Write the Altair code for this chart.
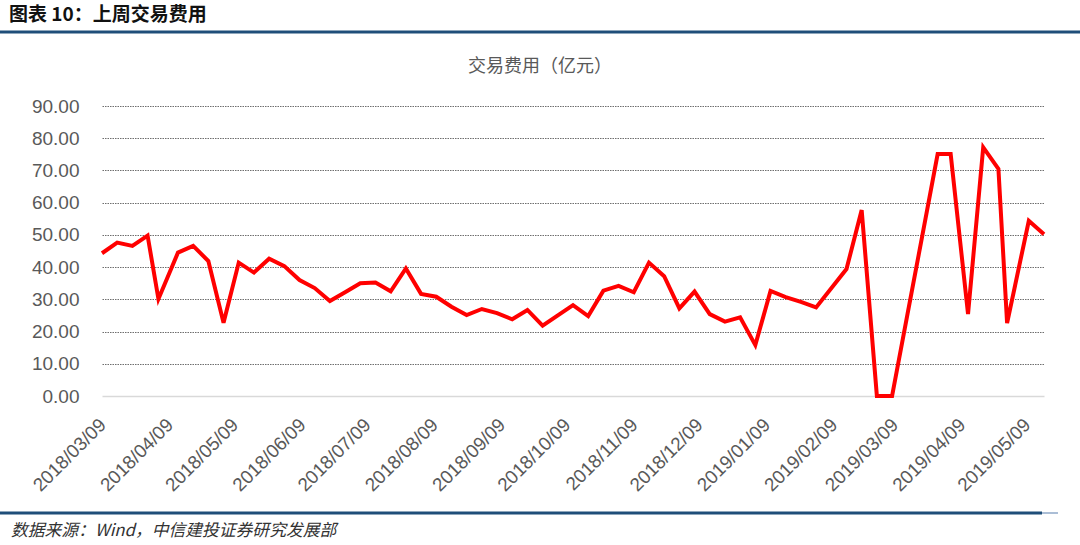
import altair as alt
import pandas as pd

# ---- data ----
dates = [
    "2018-03-09", "2018-03-16", "2018-03-23", "2018-03-30", "2018-04-04",
    "2018-04-13", "2018-04-20", "2018-04-27", "2018-05-04", "2018-05-11",
    "2018-05-18", "2018-05-25", "2018-06-01", "2018-06-08", "2018-06-15",
    "2018-06-22", "2018-06-29", "2018-07-06", "2018-07-13", "2018-07-20",
    "2018-07-27", "2018-08-03", "2018-08-10", "2018-08-17", "2018-08-24",
    "2018-08-31", "2018-09-07", "2018-09-14", "2018-09-21", "2018-09-28",
    "2018-10-12", "2018-10-19", "2018-10-26", "2018-11-02", "2018-11-09",
    "2018-11-16", "2018-11-23", "2018-11-30", "2018-12-07", "2018-12-14",
    "2018-12-21", "2018-12-28", "2019-01-04", "2019-01-11", "2019-01-18",
    "2019-01-25", "2019-02-01", "2019-02-15", "2019-02-22", "2019-03-01",
    "2019-03-08", "2019-03-15", "2019-03-22", "2019-03-29", "2019-04-04",
    "2019-04-12", "2019-04-19", "2019-04-26", "2019-04-30", "2019-05-10",
    "2019-05-17",
]
values = [
    44.3, 47.6, 46.6, 49.8, 30.1,
    44.5, 46.6, 41.9, 22.7, 41.4,
    38.3, 42.6, 40.3, 36.0, 33.5,
    29.5, 32.2, 35.0, 35.2, 32.5,
    39.6, 31.7, 30.8, 27.7, 25.1,
    27.0, 25.7, 23.8, 26.7, 21.8,
    28.2, 24.8, 32.7, 34.2, 32.2,
    41.4, 37.2, 27.2, 32.4, 25.4,
    23.1, 24.4, 15.8, 32.6, 30.7,
    29.2, 27.5, 39.4, 57.7, 0.0,
    0.0, 25.0, 50.0, 75.1, 75.1,
    25.4, 77.2, 70.5, 22.6, 54.4,
    50.2,
]
tick_dates = [
    "2018-03-09", "2018-04-09", "2018-05-09", "2018-06-09", "2018-07-09",
    "2018-08-09", "2018-09-09", "2018-10-09", "2018-11-09", "2018-12-09",
    "2019-01-09", "2019-02-09", "2019-03-09", "2019-04-09", "2019-05-09",
]
y_ticks = [0, 10, 20, 30, 40, 50, 60, 70, 80, 90]
domain_dates = ["2018-03-09", "2019-05-17"]

header = "图表 10：上周交易费用"
chart_title = "交易费用（亿元）"
source = "数据来源：Wind，中信建投证券研究发展部"


def ms(s):
    return int(pd.Timestamp(s).value // 10**6)


df = pd.DataFrame({"date": dates, "value": values})

W, H = 942, 290
PL, PT = 102, 106
TOTAL_W, TOTAL_H = 1080, 545

label_font = "Liberation Sans"
cjk = "Noto Sans CJK SC"
grey = "#595959"

x_enc = alt.X(
    "date:T",
    scale=alt.Scale(type="utc", domain=[ms(d) for d in domain_dates]),
    axis=alt.Axis(
        values=[ms(d) for d in tick_dates],
        labelExpr="utcFormat(datum.value, '%Y/%m/%d')",
        labelAngle=315,
        labelAlign="right",
        labelBaseline="top",
        labelFont=label_font,
        labelFontSize=18.8,
        labelColor=grey,
        labelPadding=19,
        labelOffset=-6,
        labelOverlap=False,
        labelBound=False,
        labelFlush=False,
        ticks=False,
        domain=False,
        grid=False,
        title=None,
    ),
)

y_enc = alt.Y(
    "value:Q",
    scale=alt.Scale(domain=[0, 90], nice=False, zero=True),
    axis=alt.Axis(
        values=y_ticks,
        format=".2f",
        labelFont=label_font,
        labelFontSize=19,
        labelColor=grey,
        labelPadding=23,
        ticks=False,
        domain=False,
        grid=True,
        gridColor={"condition": {"test": "datum.value === 0", "value": "#D9D9D9"}, "value": "#6E6E6E"},
        gridDash={"condition": {"test": "datum.value === 0", "value": [1, 0]}, "value": [1.5, 1]},
        gridWidth={"condition": {"test": "datum.value === 0", "value": 1.5}, "value": 1},
        title=None,
    ),
)

line = alt.Chart(df).mark_line(color="#FF0000", strokeWidth=4, strokeJoin="miter").encode(
    x=x_enc, y=y_enc
)

one = pd.DataFrame({"k": [0]})

title_txt = alt.Chart(one).mark_text(
    font=cjk, fontSize=18, color=grey, align="center", baseline="middle"
).encode(x=alt.value(TOTAL_W / 2 - PL), y=alt.value(67 - PT), text=alt.value(chart_title))

header_txt = alt.Chart(one).mark_text(
    font=cjk, fontSize=19, fontWeight="bold", color="#111111", align="left", baseline="middle"
).encode(x=alt.value(9 - PL), y=alt.value(15 - PT), text=alt.value(header))

source_txt = alt.Chart(one).mark_text(
    font=cjk, fontSize=16.8, fontStyle="italic", color="#333333", align="left", baseline="middle"
).encode(x=alt.value(11 - PL), y=alt.value(531 - PT), text=alt.value(source))

top_rule = alt.Chart(one).mark_rule(color="#1F4E79", strokeWidth=3).encode(
    x=alt.value(0 - PL), x2=alt.value(TOTAL_W - PL), y=alt.value(32 - PT)
)
bottom_rule = alt.Chart(one).mark_rule(color="#1F4E79", strokeWidth=3).encode(
    x=alt.value(0 - PL), x2=alt.value(1042 - PL), y=alt.value(513 - PT)
)
bottom_rule2 = alt.Chart(one).mark_rule(color="#8FA9C8", strokeWidth=1.5).encode(
    x=alt.value(1042 - PL), x2=alt.value(1058 - PL), y=alt.value(513 - PT)
)

chart = (
    alt.layer(line, title_txt, header_txt, source_txt, top_rule, bottom_rule, bottom_rule2)
    .properties(
        width=W,
        height=H,
        autosize="none",
        padding={"left": PL, "top": PT, "right": TOTAL_W - PL - W, "bottom": TOTAL_H - PT - H},
        background="white",
    )
    .configure_view(stroke=None)
)

chart.save("out.html", embed_options={"renderer": "svg", "actions": False})
